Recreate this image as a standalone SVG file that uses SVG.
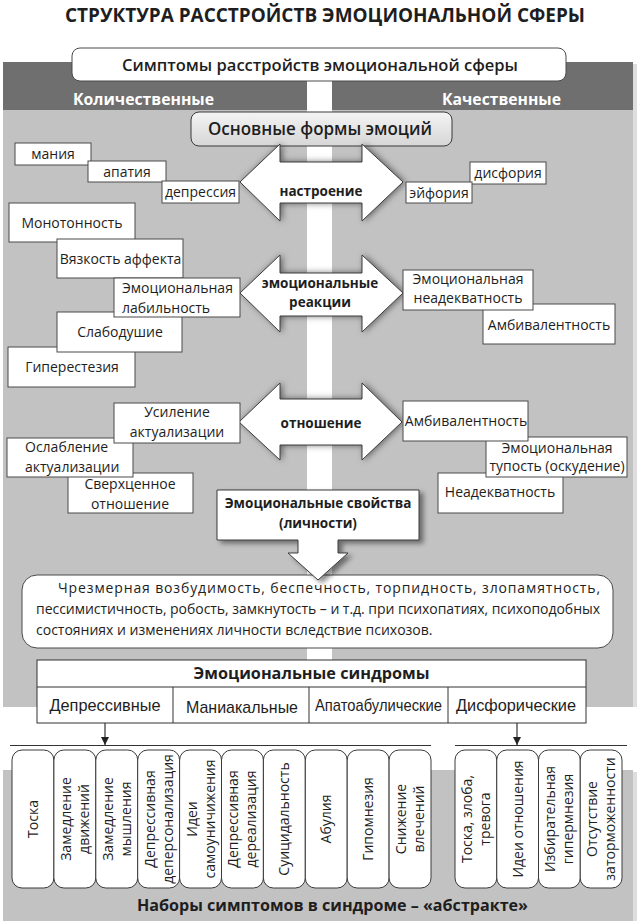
<svg xmlns="http://www.w3.org/2000/svg" width="638" height="924" viewBox="0 0 638 924">
<defs>
<style>
.t{font-family:"Open Sans","Noto Sans","DejaVu Sans",sans-serif;fill:#1e1e1e;font-size:14px;text-anchor:middle}
.l{text-anchor:start}
.b{font-weight:700}
.sb{font-weight:600}
.al{font-weight:700;font-size:13.5px}
.p{font-size:14px}
.box{fill:#fff;stroke:#4a4a4a;stroke-width:1}
.arr{fill:#fff;stroke:#3a3a3a;stroke-width:1}
.col{fill:#fff;stroke:#3a3a3a;stroke-width:1}
.nar{font-family:"Liberation Sans",Arial,sans-serif;font-size:17px;fill:#1e1e1e;text-anchor:middle}
.ln{stroke:#333;stroke-width:1.2;fill:none}
</style>
<filter id="sh" x="-20%" y="-30%" width="140%" height="160%">
<feDropShadow dx="2" dy="0" stdDeviation="3" flood-color="#000" flood-opacity="0.5"/>
</filter>
<filter id="sh2" x="-10%" y="-20%" width="125%" height="150%">
<feDropShadow dx="4" dy="3" stdDeviation="2.5" flood-color="#000" flood-opacity="0.45"/>
</filter>
<linearGradient id="gr" x1="0" y1="0" x2="0" y2="1">
<stop offset="0" stop-color="#f4f4f4"/>
<stop offset="1" stop-color="#d6d6d6"/>
</linearGradient>
<marker id="ah" markerWidth="8" markerHeight="8" refX="8" refY="4" orient="auto" markerUnits="userSpaceOnUse">
<path d="M0,0 L8,4 L0,8 z" fill="#222"/>
</marker>
</defs>

<rect width="638" height="924" fill="#fff"/>

<g id="background">
<rect x="633" y="64" width="4" height="643" fill="#dedede"/>
<rect x="3" y="62" width="630" height="48" fill="#6f6f6f"/>
<rect x="3" y="110" width="630" height="597" fill="#c2c2c2"/>
<rect x="307" y="80" width="25" height="580" fill="#fff"/>
<rect x="633" y="772" width="4" height="149" fill="#dedede"/>
<rect x="3" y="770" width="630" height="151" fill="#c2c2c2"/>
</g>

<text class="t b" x="325" y="22" style="font-size:20px" textLength="520" lengthAdjust="spacingAndGlyphs">СТРУКТУРА РАССТРОЙСТВ ЭМОЦИОНАЛЬНОЙ СФЕРЫ</text>

<g id="symptoms">
<rect class="box" x="72" y="48" width="494" height="33" rx="8"/>
<text class="t sb" x="320" y="70.5" style="font-size:17px" textLength="396" lengthAdjust="spacingAndGlyphs">Симптомы расстройств эмоциональной сферы</text>
</g>
<g id="quant"><text class="t b" x="143.5" y="104.5" style="font-size:16.5px;fill:#fff" textLength="141" lengthAdjust="spacingAndGlyphs">Количественные</text></g>
<g id="qual"><text class="t b" x="501.5" y="104.5" style="font-size:16.5px;fill:#fff" textLength="119" lengthAdjust="spacingAndGlyphs">Качественные</text></g>

<g id="forms">
<rect x="191" y="112" width="261" height="34" rx="8" fill="url(#gr)" stroke="#3a3a3a" stroke-width="1"/>
<text class="t sb" x="320" y="134.5" style="font-size:17.5px" textLength="224" lengthAdjust="spacingAndGlyphs">Основные формы эмоций</text>
</g>

<g id="connectors">
<polygon class="arr" filter="url(#sh)" points="240,182 280,144 280,162 362,162 362,144 403,182 362,221 362,203 280,203 280,221"/>
<polygon class="arr" filter="url(#sh)" points="240,293 280,255 280,273 362,273 362,255 403,293 362,332 362,316 280,316 280,332"/>
<polygon class="arr" filter="url(#sh)" points="239,422 280,383 280,399 362,399 362,383 402,422 362,460 362,445 280,445 280,460"/>
<line class="ln" x1="105" y1="723" x2="105" y2="745" marker-end="url(#ah)"/>
<line class="ln" x1="517" y1="723" x2="517" y2="745" marker-end="url(#ah)"/>
<line class="ln" x1="10" y1="745.5" x2="431" y2="745.5"/>
<line class="ln" x1="455" y1="745.5" x2="627" y2="745.5"/>
</g>

<g id="mood-label"><text class="t al" x="321" y="196">настроение</text></g>
<g id="reactions-label">
<text class="t al" x="320" y="288">эмоциональные</text>
<text class="t al" x="320" y="307">реакции</text>
</g>
<g id="relation-label"><text class="t al" x="321" y="428">отношение</text></g>

<g id="mania"><rect class="box" x="15" y="143" width="76" height="22"/><text class="t" x="53" y="159">мания</text></g>
<g id="apatia"><rect class="box" x="88" y="161" width="78" height="21"/><text class="t" x="127" y="176.5">апатия</text></g>
<g id="depressia"><rect class="box" x="162" y="181" width="77" height="22"/><text class="t" x="200.5" y="197">депрессия</text></g>

<g id="disforia"><rect class="box" x="470" y="162" width="76" height="22"/><text class="t" x="508" y="178">дисфория</text></g>
<g id="eiforia"><rect class="box" x="406" y="182" width="66" height="21"/><text class="t" x="439" y="197.5">эйфория</text></g>

<g id="monotonnost"><rect class="box" x="9" y="203" width="126" height="39"/><text class="t" x="72" y="227.5">Монотонность</text></g>
<g id="giperestezia"><rect class="box" x="8" y="347" width="127" height="40"/><text class="t" x="72" y="372">Гиперестезия</text></g>
<g id="vyazkost"><rect class="box" x="57" y="239" width="126" height="39"/><text class="t" x="120.5" y="263.5">Вязкость аффекта</text></g>
<g id="slabodushie"><rect class="box" x="57" y="312" width="125" height="40"/><text class="t" x="120" y="337">Слабодушие</text></g>
<g id="labilnost"><rect class="box" x="114" y="278" width="126" height="39"/>
<text class="t l" x="122" y="293">Эмоциональная</text><text class="t l" x="122" y="313">лабильность</text></g>

<g id="ambivalentnost1"><rect class="box" x="483" y="304" width="132" height="40"/><text class="t" x="549" y="330">Амбивалентность</text></g>
<g id="neadekvatnost1"><rect class="box" x="403" y="270" width="130" height="40"/>
<text class="t" x="468" y="284">Эмоциональная</text><text class="t" x="468" y="303">неадекватность</text></g>

<g id="sverkhcennoe"><rect class="box" x="68" y="473" width="125" height="40"/>
<text class="t" x="130" y="489">Сверхценное</text><text class="t" x="130" y="509">отношение</text></g>
<g id="oslablenie"><rect class="box" x="7" y="438" width="126" height="39"/>
<text class="t l" x="25" y="452">Ослабление</text><text class="t l" x="25" y="472">актуализации</text></g>
<g id="usilenie"><rect class="box" x="114" y="403" width="126" height="40"/>
<text class="t" x="177" y="417">Усиление</text><text class="t" x="177" y="437">актуализации</text></g>

<g id="neadekvatnost2"><rect class="box" x="438" y="473" width="125" height="40"/><text class="t" x="500" y="497">Неадекватность</text></g>
<g id="tupost"><rect class="box" x="486" y="437" width="141" height="40"/>
<text class="t" x="557" y="453">Эмоциональная</text><text class="t" x="557" y="471">тупость (оскудение)</text></g>
<g id="ambivalentnost2"><rect class="box" x="403" y="401" width="125" height="40"/><text class="t" x="466" y="426">Амбивалентность</text></g>

<g id="description">
<rect class="box" x="22" y="575" width="591" height="73" rx="15"/>
<text class="t l p" x="58" y="593" textLength="542" lengthAdjust="spacing">Чрезмерная возбудимость, беспечность, торпидность, злопамятность,</text>
<text class="t l p" x="36" y="614" textLength="564" lengthAdjust="spacing">пессимистичность, робость, замкнутость – и т.д. при психопатиях, психоподобных</text>
<text class="t l p" x="36" y="635">состояниях и изменениях личности вследствие психозов.</text>
</g>

<g id="properties">
<path class="arr" filter="url(#sh2)" d="M217,490 H419 V540 H338 V553 H348 L318,580 L288,553 H298 V540 H217 Z"/>
<text class="t al" x="318" y="508">Эмоциональные свойства</text>
<text class="t al" x="318" y="528">(личности)</text>
</g>

<g id="syndromes">
<rect x="37" y="660" width="549" height="63" fill="#fff" stroke="#333" stroke-width="1"/>
<line x1="37" y1="687" x2="586" y2="687" stroke="#333" stroke-width="1"/>
<line x1="173" y1="687" x2="173" y2="723" stroke="#333" stroke-width="1"/>
<line x1="309" y1="687" x2="309" y2="723" stroke="#333" stroke-width="1"/>
<line x1="448" y1="687" x2="448" y2="723" stroke="#333" stroke-width="1"/>
<text class="t b" x="311.5" y="679" style="font-size:16px" textLength="236" lengthAdjust="spacingAndGlyphs">Эмоциональные синдромы</text>
<text class="nar" x="105" y="711" textLength="111" lengthAdjust="spacingAndGlyphs">Депрессивные</text>
<text class="nar" x="242" y="713" textLength="112" lengthAdjust="spacingAndGlyphs">Маниакальные</text>
<text class="nar" x="378.5" y="711" textLength="127" lengthAdjust="spacingAndGlyphs">Апатоабулические</text>
<text class="nar" x="516" y="711" textLength="120" lengthAdjust="spacingAndGlyphs">Дисфорические</text>
</g>

<g id="depressive-set">
<rect class="col" x="12" y="750" width="41.9" height="138" rx="10"/>
<rect class="col" x="53.9" y="750" width="41.9" height="138" rx="10"/>
<rect class="col" x="95.8" y="750" width="41.9" height="138" rx="10"/>
<rect class="col" x="137.7" y="750" width="41.9" height="138" rx="10"/>
<rect class="col" x="179.6" y="750" width="41.9" height="138" rx="10"/>
<rect class="col" x="221.5" y="750" width="41.9" height="138" rx="10"/>
<rect class="col" x="263.4" y="750" width="41.9" height="138" rx="10"/>
<rect class="col" x="305.3" y="750" width="41.9" height="138" rx="10"/>
<rect class="col" x="347.2" y="750" width="41.9" height="138" rx="10"/>
<rect class="col" x="389.1" y="750" width="41.9" height="138" rx="10"/>
<text class="t" transform="translate(38,819) rotate(-90)">Тоска</text>
<text class="t" transform="translate(70.8,819) rotate(-90)">Замедление</text>
<text class="t" transform="translate(88.8,819) rotate(-90)">движений</text>
<text class="t" transform="translate(112.7,819) rotate(-90)">Замедление</text>
<text class="t" transform="translate(130.7,819) rotate(-90)">мышления</text>
<text class="t" transform="translate(154.6,819) rotate(-90)">Депрессивная</text>
<text class="t" transform="translate(172.6,819) rotate(-90)">деперсонализация</text>
<text class="t" transform="translate(196.5,819) rotate(-90)">Идеи</text>
<text class="t" transform="translate(214.5,819) rotate(-90)">самоуничижения</text>
<text class="t" transform="translate(238.4,819) rotate(-90)">Депрессивная</text>
<text class="t" transform="translate(256.4,819) rotate(-90)">дереализация</text>
<text class="t" transform="translate(289.3,819) rotate(-90)">Суицидальность</text>
<text class="t" transform="translate(331.2,819) rotate(-90)">Абулия</text>
<text class="t" transform="translate(373.1,819) rotate(-90)">Гипомнезия</text>
<text class="t" transform="translate(406,819) rotate(-90)">Снижение</text>
<text class="t" transform="translate(424,819) rotate(-90)">влечений</text>
</g>

<g id="dysphoric-set">
<rect class="col" x="455" y="750" width="41.75" height="138" rx="10"/>
<rect class="col" x="496.75" y="750" width="41.75" height="138" rx="10"/>
<rect class="col" x="538.5" y="750" width="41.75" height="138" rx="10"/>
<rect class="col" x="580.25" y="750" width="41.75" height="138" rx="10"/>
<text class="t" transform="translate(471.9,819) rotate(-90)">Тоска, злоба,</text>
<text class="t" transform="translate(489.9,819) rotate(-90)">тревога</text>
<text class="t" transform="translate(522.6,819) rotate(-90)">Идеи отношения</text>
<text class="t" transform="translate(555.4,819) rotate(-90)">Избирательная</text>
<text class="t" transform="translate(573.4,819) rotate(-90)">гипермнезия</text>
<text class="t" transform="translate(597.1,819) rotate(-90)">Отсутствие</text>
<text class="t" transform="translate(615.1,819) rotate(-90)">заторможенности</text>
</g>

<g id="sets-caption"><text class="t b" x="332.5" y="911" style="font-size:16px" textLength="391" lengthAdjust="spacingAndGlyphs">Наборы симптомов в синдроме – «абстракте»</text></g>
</svg>
